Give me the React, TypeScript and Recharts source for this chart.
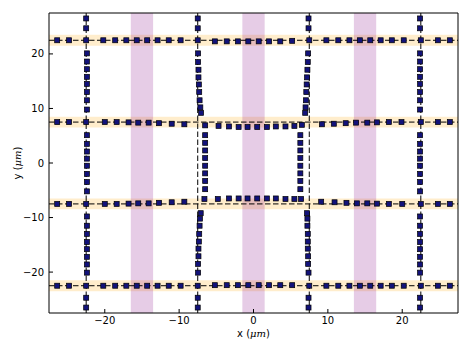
import { ScatterChart, Scatter, XAxis, YAxis, ReferenceArea, ReferenceLine, Label } from 'recharts';

const domain: [number, number] = [-27.5, 27.5];
const xTicks = [-20, -10, 0, 10, 20];
const yTicks = [-20, -10, 0, 10, 20];
const gridX = [-22.5, -7.5, 7.5, 22.5];
const gridY = [-22.5, -7.5, 7.5, 22.5];
const purpleBands = [[-16.5, -13.5], [-1.5, 1.5], [13.5, 16.5]];
const orangeBands = [[21.5, 23.5], [6.5, 8.5], [-8.5, -6.5], [-23.5, -21.5]];

type Pt = [number, number];

// horizontal rows
const rowTop: Pt[] = [
  [-26.4, 22.5], [-24.8, 22.5], [-22.5, 22.5], [-20.2, 22.5], [-18.6, 22.5], [-17.1, 22.5],
  [-15.7, 22.5], [-14.3, 22.5], [-12.9, 22.5], [-11.4, 22.5], [-9.8, 22.5], [-7.5, 22.5],
  [-5.2, 22.3], [-3.6, 22.3], [-2.1, 22.3], [-0.7, 22.3], [0.7, 22.3], [2.1, 22.3],
  [3.6, 22.3], [5.2, 22.4], [7.5, 22.5], [9.8, 22.5], [11.4, 22.5], [12.9, 22.5],
  [14.3, 22.5], [15.7, 22.5], [17.1, 22.5], [18.6, 22.5], [20.2, 22.5], [22.5, 22.5],
  [24.8, 22.5], [26.4, 22.5],
];
const rowBottom: Pt[] = [
  [-26.4, -22.5], [-24.8, -22.5], [-22.5, -22.5], [-20.2, -22.5], [-18.6, -22.5], [-17.1, -22.5],
  [-15.7, -22.5], [-14.3, -22.5], [-12.9, -22.5], [-11.4, -22.5], [-9.8, -22.5], [-7.5, -22.5],
  [-5.2, -22.4], [-3.6, -22.4], [-2.1, -22.4], [-0.7, -22.4], [0.7, -22.4], [2.1, -22.4],
  [3.6, -22.4], [5.2, -22.4], [7.5, -22.5], [9.8, -22.5], [11.4, -22.5], [12.9, -22.5],
  [14.3, -22.5], [15.7, -22.5], [17.1, -22.5], [18.6, -22.5], [20.2, -22.5], [22.5, -22.5],
  [24.8, -22.5], [26.4, -22.5],
];
const rowUpperOuter: Pt[] = [
  [-26.4, 7.5], [-24.8, 7.5], [-22.5, 7.5], [-20.0, 7.5], [-18.4, 7.5], [-16.8, 7.45],
  [-15.5, 7.4], [-14.1, 7.4], [-12.7, 7.3], [-11.0, 7.2], [-9.3, 7.1],
  [9.2, 7.1], [10.8, 7.2], [12.4, 7.3], [13.8, 7.4], [15.3, 7.4], [16.6, 7.45],
  [18.2, 7.5], [19.9, 7.5], [22.5, 7.5], [24.8, 7.5], [26.4, 7.5],
];
const rowLowerOuter: Pt[] = [
  [-26.4, -7.5], [-24.8, -7.5], [-22.5, -7.5], [-20.0, -7.5], [-18.4, -7.5], [-16.8, -7.45],
  [-15.5, -7.4], [-14.1, -7.4], [-12.7, -7.3], [-11.0, -7.2], [-9.3, -7.1],
  [9.1, -7.1], [10.9, -7.2], [12.5, -7.3], [13.9, -7.4], [15.3, -7.4], [16.6, -7.45],
  [18.2, -7.5], [20.0, -7.5], [22.5, -7.5], [24.8, -7.5], [26.4, -7.5],
];
const rowUpperInner: Pt[] = [
  [-6.5, 6.9], [-4.7, 6.8], [-3.3, 6.7], [-2.0, 6.6], [-0.8, 6.6], [0.5, 6.6],
  [1.8, 6.6], [3.0, 6.7], [4.3, 6.7], [5.5, 6.8], [6.5, 7.0],
];
const rowLowerInner: Pt[] = [
  [-6.6, -6.6], [-4.8, -6.6], [-3.3, -6.5], [-2.0, -6.5], [-0.8, -6.5], [0.5, -6.5],
  [1.8, -6.5], [3.0, -6.5], [4.3, -6.6], [5.5, -6.6], [6.4, -6.6],
];

// vertical columns
const colFarLeft: Pt[] = [
  [-22.5, 26.5], [-22.5, 24.7], [-22.4, 20.1], [-22.4, 18.6], [-22.4, 17.2], [-22.4, 15.8],
  [-22.4, 14.5], [-22.4, 13.0], [-22.4, 11.5], [-22.4, 9.8], [-22.4, 5.1], [-22.4, 3.5],
  [-22.4, 2.1], [-22.4, 0.8], [-22.4, -0.5], [-22.4, -2.0], [-22.4, -3.5], [-22.4, -5.2],
  [-22.4, -9.8], [-22.4, -11.5], [-22.4, -13.0], [-22.4, -14.5], [-22.4, -15.8], [-22.4, -17.2],
  [-22.4, -18.6], [-22.4, -20.1], [-22.5, -24.7], [-22.5, -26.5],
];
const colFarRight: Pt[] = [
  [22.4, 26.5], [22.4, 24.7], [22.4, 20.1], [22.4, 18.6], [22.4, 17.2], [22.4, 15.8],
  [22.4, 14.5], [22.4, 13.0], [22.4, 11.5], [22.4, 9.8], [22.4, 5.1], [22.4, 3.5],
  [22.4, 2.1], [22.4, 0.8], [22.4, -0.5], [22.4, -2.0], [22.4, -3.5], [22.4, -5.2],
  [22.4, -9.8], [22.4, -11.5], [22.4, -13.0], [22.4, -14.5], [22.4, -15.8], [22.4, -17.2],
  [22.4, -18.6], [22.4, -20.1], [22.4, -24.7], [22.4, -26.5],
];
const colLeftUpper: Pt[] = [
  [-7.5, 26.5], [-7.5, 24.7], [-7.45, 20.1], [-7.45, 18.5], [-7.4, 17.1], [-7.4, 15.7],
  [-7.35, 14.4], [-7.3, 13.0], [-7.25, 11.5], [-7.15, 10.2], [-7.05, 9.2],
];
const colLeftLower: Pt[] = [
  [-7.1, -9.2], [-7.2, -10.2], [-7.25, -11.5], [-7.3, -13.0], [-7.35, -14.4], [-7.4, -15.7],
  [-7.4, -17.1], [-7.45, -18.5], [-7.45, -20.1], [-7.5, -24.7], [-7.5, -26.5],
];
const colRightUpper: Pt[] = [
  [7.4, 26.5], [7.4, 24.7], [7.35, 20.1], [7.3, 18.5], [7.25, 17.1], [7.2, 15.7],
  [7.15, 14.4], [7.1, 13.0], [7.05, 11.5], [7.0, 10.2], [6.95, 9.2],
];
const colRightLower: Pt[] = [
  [7.2, -9.2], [7.25, -10.2], [7.25, -11.5], [7.3, -13.0], [7.3, -14.4], [7.3, -15.7],
  [7.35, -17.1], [7.35, -18.5], [7.4, -20.1], [7.4, -24.7], [7.4, -26.5],
];
const colLeftInner: Pt[] = [
  [-6.5, 5.1], [-6.5, 3.7], [-6.5, 2.3], [-6.5, 0.9], [-6.5, -0.5], [-6.5, -1.9],
  [-6.5, -3.3], [-6.5, -4.8],
];
const colRightInner: Pt[] = [
  [6.3, 5.1], [6.3, 3.7], [6.3, 2.3], [6.3, 0.9], [6.3, -0.5], [6.3, -1.9],
  [6.3, -3.3], [6.3, -4.8],
];

const points = [
  ...rowTop, ...rowBottom, ...rowUpperOuter, ...rowLowerOuter, ...rowUpperInner, ...rowLowerInner,
  ...colFarLeft, ...colFarRight, ...colLeftUpper, ...colLeftLower, ...colRightUpper, ...colRightLower,
  ...colLeftInner, ...colRightInner,
].map(([x, y]) => ({ x, y }));

const FONT = '"DejaVu Sans", sans-serif';
const fmt = (v: number) => String(v).replace('-', '\u2212');

const Square = (props: any) => {
  const { cx, cy } = props;
  if (cx == null || cy == null) return null;
  return <rect x={cx - 2.5} y={cy - 2.5} width={5} height={5} fill="#12127a" stroke="#000" strokeWidth={0.7} />;
};

export default function App() {
  return (
    <div style={{ position: 'absolute', left: 0, top: 0, background: '#fff' }}>
      <ScatterChart width={474} height={358} margin={{ top: 0, right: 0, bottom: 0, left: 0 }}>
        <XAxis xAxisId="top" orientation="top" type="number" dataKey="x" domain={domain} ticks={xTicks}
          height={13} tickSize={-4} tick={false} axisLine={{ stroke: '#000' }} tickLine={{ stroke: '#000' }} />
        <XAxis type="number" dataKey="x" domain={domain} ticks={xTicks} height={45} tickSize={-4} tickMargin={8}
          tickFormatter={fmt} tick={{ fontSize: 10, fill: '#000', fontFamily: FONT }}
          axisLine={{ stroke: '#000' }} tickLine={{ stroke: '#000' }}>
          <Label content={({ viewBox }: any) => (
            <text x={viewBox.x + viewBox.width / 2} y={viewBox.y + 24} textAnchor="middle" fontSize={10} fontFamily={FONT}>
              x (<tspan fontStyle="italic" fontFamily='"DejaVu Serif", serif'>μm</tspan>)
            </text>
          )} />
        </XAxis>
        <YAxis type="number" dataKey="y" domain={domain} ticks={yTicks} width={49} tickSize={-4} tickMargin={9}
          tickFormatter={fmt} tick={{ fontSize: 10, fill: '#000', fontFamily: FONT }}
          axisLine={{ stroke: '#000' }} tickLine={{ stroke: '#000' }}>
          <Label content={({ viewBox }: any) => {
            const cy = viewBox.y + viewBox.height / 2;
            return (
              <text x={21} y={cy} transform={`rotate(-90 21 ${cy})`} textAnchor="middle" fontSize={10} fontFamily={FONT}>
                y (<tspan fontStyle="italic" fontFamily='"DejaVu Serif", serif'>μm</tspan>)
              </text>
            );
          }} />
        </YAxis>
        <YAxis yAxisId="right" orientation="right" type="number" domain={domain} ticks={yTicks} width={16}
          tickSize={-4} tick={false} axisLine={{ stroke: '#000' }} tickLine={{ stroke: '#000' }} />

        {orangeBands.map(([a, b], i) => (
          <ReferenceArea key={`o${i}`} y1={a} y2={b} fill="orange" fillOpacity={0.2} stroke="none" />
        ))}
        {purpleBands.map(([a, b], i) => (
          <ReferenceArea key={`p${i}`} x1={a} x2={b} fill="purple" fillOpacity={0.2} stroke="none" />
        ))}
        {gridX.map((v) => (
          <ReferenceLine key={`gx${v}`} x={v} stroke="#000" strokeWidth={1} strokeDasharray="5.5 2.5" />
        ))}
        {gridY.map((v) => (
          <ReferenceLine key={`gy${v}`} y={v} stroke="#000" strokeWidth={1} strokeDasharray="5.5 2.5" />
        ))}

        <Scatter data={points} shape={<Square />} isAnimationActive={false} />
      </ScatterChart>
    </div>
  );
}
